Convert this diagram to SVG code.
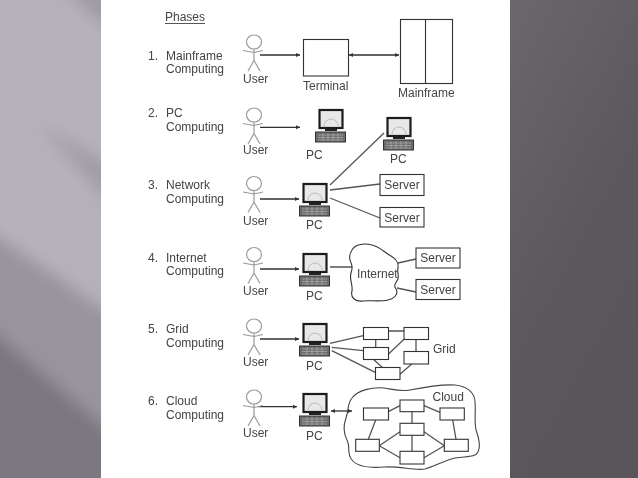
<svg xmlns="http://www.w3.org/2000/svg" width="638" height="478" viewBox="0 0 638 478">
<style>
text{font-family:"Liberation Sans",Arial,sans-serif;font-size:12px;fill:#444}
.b{fill:#fff;stroke:#333;stroke-width:1.1}
.c{stroke:#555;stroke-width:1.3;fill:none}
.a{stroke:#333;stroke-width:1.3;fill:none;marker-end:url(#h)}
.d{stroke:#333;stroke-width:1.3;fill:none;marker-end:url(#h);marker-start:url(#s)}
.u{stroke:#9a9a9a;stroke-width:1.2;fill:none}
</style>
<defs>
<linearGradient id="rg" x1="0" y1="0" x2=".5" y2="1"><stop offset="0" stop-color="#6b676c"/><stop offset=".6" stop-color="#5c585d"/><stop offset="1" stop-color="#59555a"/></linearGradient>
<filter id="bl" x="-30%" y="-30%" width="160%" height="160%"><feGaussianBlur stdDeviation="8"/></filter>
<filter id="sf"><feGaussianBlur stdDeviation=".35"/></filter>
<marker id="h" markerWidth="5" markerHeight="5" refX="4" refY="2.5" orient="auto" markerUnits="userSpaceOnUse"><path d="M0 .5L4 2.5L0 4.5Z" fill="#333"/></marker>
<marker id="s" markerWidth="5" markerHeight="5" refX="1" refY="2.5" orient="auto" markerUnits="userSpaceOnUse"><path d="M5 .5L1 2.5L5 4.5Z" fill="#333"/></marker>
<g id="usr">
<ellipse cx="254" cy="42" rx="7.5" ry="7" class="u"/>
<path d="M243 50.5L254 52.5L263 50.5M254 49V60.5M254 60.5L248 71M254 60.5L260 71" class="u"/>
</g>
<g id="pc">
<rect x="4.5" y="1" width="23" height="18" fill="#e8e8e8" stroke="#1c1c1c" stroke-width="2.2"/>
<path d="M9 17a7 7 0 0 1 14 0" fill="none" stroke="#bbb" stroke-width="1"/>
<path d="M10 20h12v2h-12z" fill="#222"/>
<rect x="0.5" y="23" width="30" height="10" fill="#6c6c6c" stroke="#333"/>
<path d="M3 26h25M3 28.5h25M3 31h25M8 24v8M13 24v8M18 24v8M23 24v8" stroke="#bbb" stroke-width=".6"/>
</g>
</defs>
<g id="background">
<rect width="638" height="478" fill="#b6b2ba"/>
<g filter="url(#bl)">
<path d="M55 -20L120 -20L120 40Z" fill="#9e9aa2"/>
<path d="M40 125L120 170L120 215Z" fill="#a09ca4"/>
<path d="M-20 225L120 320L120 500L-20 500Z" fill="#98949c"/>
<path d="M-20 320L120 440L120 500L-20 500Z" fill="#7b777e"/>
</g>
<rect x="509" width="129" height="478" fill="url(#rg)"/>
<rect x="101" width="409" height="478" fill="#fff"/>
</g>
<g filter="url(#sf)">
<g id="connectors">
<path class="a" d="M260 55H300"/>
<path class="d" d="M349 55H399"/>
<path class="a" d="M260 127.3H300"/>
<path class="a" d="M260 199H299"/>
<path class="c" d="M330 185L384 133M330 190L380 184M330 198L380 218"/>
<path class="a" d="M260 269H299"/>
<path class="c" d="M330 267H353M398 263L416 259M397 288L416 292"/>
<path class="a" d="M260 339H299"/>
<path class="c" d="M330 343.3L363.3 335.7M331.7 347.3L363.3 350.7M331.7 350.7L375.7 372.7M388 331H404M375.7 339V348M388.3 354.3L404 339.3M416 339V352M373 359L383 368M400 374.3L411.7 364"/>
<path class="a" d="M258 406.7H297"/>
<path class="d" d="M331 411H352"/>
</g>
<g id="heading"><text x="165" y="21">Phases</text><path d="M165 23.5H205" stroke="#444" stroke-width=".9"/></g>
<g id="phase-labels">
<text x="148" y="59.5">1.</text><text x="166" y="59.5">Mainframe</text><text x="166" y="73">Computing</text>
<text x="148" y="117">2.</text><text x="166" y="117">PC</text><text x="166" y="131">Computing</text>
<text x="148" y="189">3.</text><text x="166" y="189">Network</text><text x="166" y="203">Computing</text>
<text x="148" y="261.5">4.</text><text x="166" y="261.5">Internet</text><text x="166" y="275">Computing</text>
<text x="148" y="333">5.</text><text x="166" y="333">Grid</text><text x="166" y="347">Computing</text>
<text x="148" y="405">6.</text><text x="166" y="405">Cloud</text><text x="166" y="419">Computing</text>
</g>
<g id="user1"><use href="#usr"/><text x="243" y="83">User</text></g>
<g id="user2"><use href="#usr" y="73"/><text x="243" y="154">User</text></g>
<g id="user3"><use href="#usr" y="141.5"/><text x="243" y="224.5">User</text></g>
<g id="user4"><use href="#usr" y="212.5"/><text x="243" y="295">User</text></g>
<g id="user5"><use href="#usr" y="284"/><text x="243" y="366">User</text></g>
<g id="user6"><use href="#usr" y="355"/><text x="243" y="437">User</text></g>
<g id="terminal"><rect class="b" x="303.5" y="39.5" width="45" height="36.5"/><text x="303" y="89.5">Terminal</text></g>
<g id="mainframe"><rect class="b" x="400.5" y="19.5" width="52" height="64"/><path d="M425.5 19.5V83.5" stroke="#333" stroke-width="1.1"/><text x="398" y="96.5">Mainframe</text></g>
<g id="pc2"><use href="#pc" x="315" y="109"/><text x="306" y="159">PC</text></g>
<g id="pc2b"><use href="#pc" x="383" y="117"/><text x="390" y="163">PC</text></g>
<g id="pc3"><use href="#pc" x="299" y="183"/><text x="306" y="229">PC</text></g>
<g id="server3a"><rect class="b" x="380" y="174.5" width="44" height="21"/><text x="402" y="189" text-anchor="middle">Server</text></g>
<g id="server3b"><rect class="b" x="380" y="207.5" width="44" height="19.5"/><text x="402" y="221.5" text-anchor="middle">Server</text></g>
<g id="pc4"><use href="#pc" x="299" y="253"/><text x="306" y="300">PC</text></g>
<g id="internet"><path class="b" d="M352 250C355 244 365 243 372 245C379 246 385 253 391 256C396 259 399 262 398 268C397 272 399 275 398 279C396 283 393 285 396 289C399 294 394 299 388 300C380 302 369 300 363 301C356 302 350 298 352 291C353 284 349 280 351 273C353 267 352 265 350 260C349 256 350 253 352 250Z"/><text x="357" y="278">Internet</text></g>
<g id="server4a"><rect class="b" x="416" y="248" width="44" height="20"/><text x="438" y="261.5" text-anchor="middle">Server</text></g>
<g id="server4b"><rect class="b" x="416" y="279.5" width="44" height="20"/><text x="438" y="293.5" text-anchor="middle">Server</text></g>
<g id="pc5"><use href="#pc" x="299" y="323"/><text x="306" y="370">PC</text></g>
<g id="grid"><rect class="b" x="363.5" y="327.5" width="25" height="12"/><rect class="b" x="404" y="327.5" width="24.5" height="12"/><rect class="b" x="363.5" y="347.5" width="25" height="12"/><rect class="b" x="404" y="351.5" width="24.5" height="12.5"/><rect class="b" x="375.5" y="367.5" width="24.5" height="12"/><text x="433" y="353">Grid</text></g>
<g id="pc6"><use href="#pc" x="299" y="393"/><text x="306" y="440">PC</text></g>
<g id="cloud"><path d="M352 398C358 390 372 387 384 388C392 389 400 392 410 390C420 388 440 384 455 385C466 386 475 392 475 402C476 412 474 420 476 430C479 438 481 446 478 452C475 458 466 456 455 458C444 461 434 466 425 469C415 471 400 466 385 467C372 468 358 468 352 460C346 453 351 447 347 440C343 432 343 426 346 418C349 410 347 404 352 398Z" fill="none" stroke="#444" stroke-width="1.1"/><text x="432.5" y="401">Cloud</text>
<path class="c" d="M388.3 411.7L400 405.7M424 405.7L440 412.3M412 411.7V423.3M375.7 420L368.3 439.3M452.7 420L456 439.3M400 431.7L379.3 445.7M424 431.7L444.3 445.7M412 435.3V451.3M379.3 445.7L400 457.7M444.3 445.7L424 457.7"/>
<rect class="b" x="363.5" y="408" width="25" height="12"/><rect class="b" x="400" y="400" width="24" height="11.7"/><rect class="b" x="440" y="408" width="24.3" height="12"/><rect class="b" x="400" y="423.3" width="24" height="12"/><rect class="b" x="355.7" y="439.3" width="23.6" height="12"/><rect class="b" x="444.3" y="439.3" width="24" height="12"/><rect class="b" x="400" y="451.3" width="24" height="12.7"/></g>
</g>
</svg>
